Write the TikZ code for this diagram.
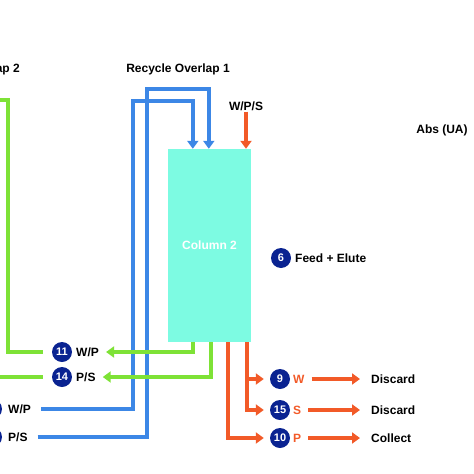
\documentclass[tikz,border=0pt]{standalone}
\usepackage{fontspec}
\setmainfont{Liberation Sans}
\usepackage{tikz}
\usetikzlibrary{arrows.meta, positioning, calc}
\definecolor{smbblue}{HTML}{3C87E6}
\definecolor{smbgreen}{HTML}{7EE236}
\definecolor{smbred}{HTML}{F25A28}
\definecolor{smbnavy}{HTML}{0A2391}
\definecolor{smbcol}{HTML}{7DFBE2}

\tikzset{
  lbl/.style={font=\fontsize{12}{14}\selectfont\bfseries, text=black, inner sep=1pt},
  badge/.style={circle, fill=smbnavy, text=white, inner sep=0pt, minimum size=20pt,
    font=\fontsize{11}{12}\selectfont\bfseries},
  pipe/.style={line width=3.4pt},
  tip/.style={-{Triangle[length=8pt,width=11pt]}},
}

\begin{document}
\begin{tikzpicture}[x=1pt, y=-1pt]
  \useasboundingbox (0,0) rectangle (474,474);
  % column and its feed
  \node[fill=smbcol, minimum width=83pt, minimum height=193pt, inner sep=0pt,
    font=\fontsize{12}{14}\selectfont\bfseries, text=white] (col) at (209.5,245.5) {Column 2};
  \node[lbl] (rec1) at (178,69) {Recycle Overlap 1};
  \node[lbl, anchor=east] (rec2) at (21,69) {Recycle Overlap 2};
  \node[lbl] (wps) at (246,106) {W/P/S};
  \node[lbl] (abs) at (442,130) {Abs (UA)};
  \node[badge] (b6) at (281,258) {6};
  \node[lbl, anchor=west] (feed) at (294,258) {Feed + Elute};

  % recycle outlets (green)
  \node[badge] (b11) at (62,352) {11};
  \node[badge] (b14) at (62,377) {14};
  \node[lbl, anchor=west] (wp11) at (75,352) {W/P};
  \node[lbl, anchor=west] (ps14) at (75,377) {P/S};

  % recycle inlets (blue), cut at the left edge
  \node[badge] (bl1) at (-8,409) {};
  \node[badge] (bl2) at (-8,437) {};
  \node[lbl, anchor=west] (wpl) at (7,409) {W/P};
  \node[lbl, anchor=west] (psl) at (7,437) {P/S};

  % outlets (red)
  \foreach \nm/\num/\txt/\res/\yy in {w9/9/W/Discard/379, s15/15/S/Discard/410, p10/10/P/Collect/438} {
    \node[badge] (b\nm) at (280,\yy) {\num};
    \node[lbl, anchor=west, text=smbred] (\nm) at (292,\yy) {\txt};
    \node[lbl, anchor=west] (r\nm) at (370,\yy) {\res};
  }
  \coordinate (g0) at (-6,100);
  \coordinate (g1) at (-6,377);

  % connectors
  \draw[pipe, smbblue, tip, shorten <=9pt] (wpl.east) -| (133,101) -| ([xshift=25pt]col.north west);
  \draw[pipe, smbblue, tip, shorten <=9pt] (psl.east) -| (147,89) -| ([xshift=41pt]col.north west);
  \draw[pipe, smbred, tip] (wps.south) -- (wps.south |- col.north);
  \draw[pipe, smbgreen, tip, shorten >=6pt] ([xshift=25pt]col.south west) |- (wp11.east);
  \draw[pipe, smbgreen, tip, shorten >=6pt] ([xshift=43pt]col.south west) |- (ps14.east);
  \draw[pipe, smbgreen, shorten >=9pt] (g0) -| (8,352) -- (b11.west);
  \draw[pipe, smbgreen, shorten >=9pt] (g1) -- (b14.west);
  \draw[pipe, smbred, tip, shorten >=6pt] ([xshift=79pt]col.south west) |- (bw9.west);
  \draw[pipe, smbred, tip, shorten >=6pt] ([xshift=79pt]col.south west) |- (bs15.west);
  \draw[pipe, smbred, tip, shorten >=6pt] ([xshift=60pt]col.south west) |- (bp10.west);
  \foreach \nm in {w9, s15, p10}
    \draw[pipe, smbred, tip, shorten <=6pt, shorten >=10pt] (\nm.east) -- (r\nm.west);
\end{tikzpicture}
\end{document}
